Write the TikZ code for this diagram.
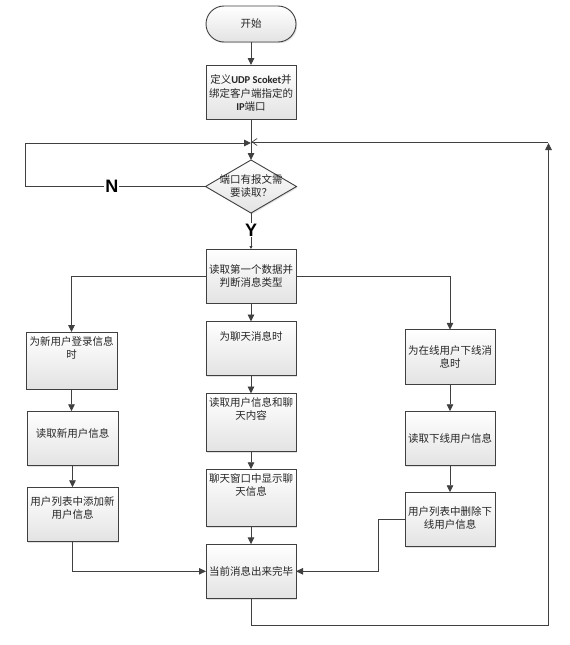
\documentclass[tikz,border=0pt]{standalone}
\usepackage{fontspec}
\setmainfont{Noto Sans CJK SC}
\newfontfamily\lat{Carlito}
\newfontfamily\yn{Liberation Sans}
\usetikzlibrary{arrows.meta,shapes.geometric,shadows}
\definecolor{ln}{HTML}{404040}
\tikzset{
  box/.style={draw=ln, line width=0.9pt, rectangle, inner sep=0, outer sep=0,
    top color=white, bottom color=gray!22, minimum width=90pt,
    drop shadow={shadow xshift=1.2pt, shadow yshift=-1.2pt, fill=gray!45, opacity=0.5}},
  txt/.style={font=\fontsize{10.5}{13.5}\selectfont, align=center, inner sep=0, text=black!85},
  con/.style={draw=ln, line width=0.9pt},
  arr/.style={con, -{Triangle[length=7pt,width=6.5pt]}},
  lab/.style={font=\yn\bfseries\fontsize{18}{18}\selectfont, fill=white, inner sep=1pt, text=black}
}
\begin{document}
\begin{tikzpicture}[x=1pt,y=-1pt]
\useasboundingbox[fill=white] (0,0) rectangle (570,645);
% nodes
\node[box, rounded corners=18pt, minimum height=36pt] (start) at (251,24) {};
\node[txt] (tstart) at (251,24) {开始};
\node[box, minimum height=54pt] (b1) at (251,92) {};
\node[txt] (tb1) at (251,93) {定义{\lat\bfseries UDP Scoket}并\\绑定客户端指定的\\{\lat\bfseries IP}端口};
\node[box, shape=diamond, minimum width=91pt, minimum height=53pt, aspect=1.7] (dec) at (251,186.5) {};
\node[txt] (tdec) at (251,186) {端口有报文需\\要读取？};
\node[box, minimum height=54pt] (b2) at (251,276) {};
\node[txt] (tb2) at (251,276) {读取第一个数据并\\判断消息类型};
% left column
\node[box, minimum width=91pt, minimum height=57pt] (a1) at (71.5,360.5) {};
\node[txt] (ta1) at (71.5,348) {为新用户登录信息\\时};
\node[box, minimum width=91pt, minimum height=54.5pt] (a2) at (72.5,438.5) {};
\node[txt] (ta2) at (72.5,433) {读取新用户信息};
\node[box, minimum width=91pt, minimum height=54.5pt] (a3) at (72.5,514.5) {};
\node[txt] (ta3) at (72.5,508) {用户列表中添加新\\用户信息};
% middle column
\node[box, minimum height=54pt] (c1) at (251,348.5) {};
\node[txt] (tc1) at (251,336.5) {为聊天消息时};
\node[box, minimum height=58pt] (c2) at (251,422.5) {};
\node[txt] (tc2) at (251,409) {读取用户信息和聊\\天内容};
\node[box, minimum height=57.5pt] (c3) at (251,498) {};
\node[txt] (tc3) at (251,485) {聊天窗口中显示聊\\天信息};
\node[box, minimum height=54pt] (e) at (251,571.3) {};
\node[txt] (te) at (251,571.5) {当前消息出来完毕};
% right column
\node[box, minimum height=54.5pt] (d1) at (450,357) {};
\node[txt] (td1) at (450,357) {为在线用户下线消\\息时};
\node[box, minimum height=54.5pt] (d2) at (450,438.5) {};
\node[txt] (td2) at (450,438.5) {读取下线用户信息};
\node[box, minimum height=54.5pt] (d3) at (450,519.5) {};
\node[txt] (td3) at (450,518) {用户列表中删除下\\线用户信息};
% coordinates
\coordinate (merge) at (251,143);
\coordinate (lft) at (25.5,143);
\coordinate (rt) at (548.5,143);
\coordinate (bot) at (548.5,625);
\coordinate (rj) at (378,519.5);
% connectors
\draw[arr] (start) -- (b1);
\draw[arr] (b1) -- (dec);
\draw[con] (dec.west) -- node[lab, pos=0.52] (N) {N} (dec.west -| lft) -- (lft);
\draw[arr] (lft) -- (merge);
\draw[con] (e.south) |- (bot);
\draw[arr] (bot) -- (rt);
\draw[con, -{Straight Barb[length=5pt,width=7pt]}, line width=0.7pt] (548,142) -- (251.5,142);
\node[lab] (Y) at (251,230) {Y};
\draw[con] (dec.south) -- (Y);
\draw[con, -{Triangle[length=3pt,width=3pt]}] (Y) -- (b2.north);
\draw[arr] (b2.west) -| (a1.north);
\draw[arr] (b2.east) -| (d1.north);
\draw[arr] (b2) -- (c1);
\draw[arr] (c1) -- (c2);
\draw[arr] (c2) -- (c3);
\draw[arr] (c3) -- (e);
\draw[arr] (a1.south) -- (a1.south |- a2.north);
\draw[arr] (a2) -- (a3);
\draw[arr] (a3.south) |- (e.west);
\draw[arr] (d1) -- (d2);
\draw[arr] (d2) -- (d3);
\draw[arr] (d3.west) -- (rj) |- (e.east);
\end{tikzpicture}
\end{document}
